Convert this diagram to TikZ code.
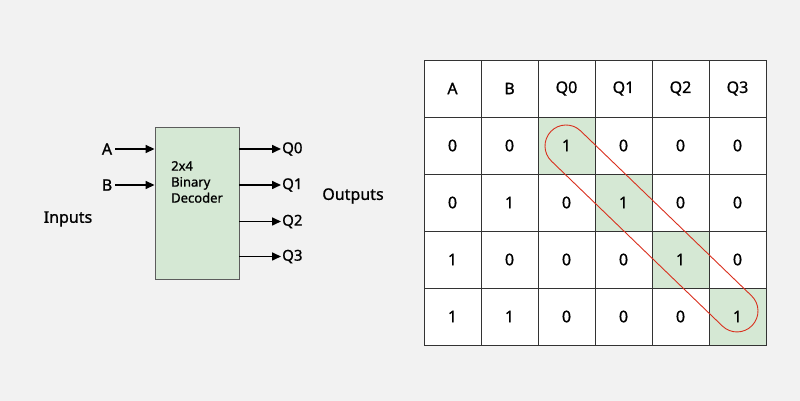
\documentclass[tikz,border=0pt]{standalone}
\usepackage{fontspec}
\setmainfont{Noto Sans}[FakeBold=0.9]
\usetikzlibrary{arrows.meta,calc}
\definecolor{bg}{HTML}{F2F2F2}
\definecolor{cellgreen}{HTML}{D5E8D4}
\definecolor{gridline}{HTML}{333333}
\definecolor{capred}{HTML}{D9301E}
\tikzset{
  cell/.style={draw=gridline, line width=0.9pt, minimum width=57pt, minimum height=57pt, inner sep=0pt, font=\fontsize{16}{18}\selectfont, text=black},
  hl/.style={fill=cellgreen},
  wire/.style={line width=1.6pt, -{Triangle[length=9pt,width=8pt]}},
  lab/.style={inner sep=1pt, font=\fontsize{15}{17}\selectfont},
  bigl/.style={inner sep=0pt, font=\fontsize{16}{18}\selectfont},
}
\begin{document}
\begin{tikzpicture}[x=1pt,y=1pt]
\fill[bg] (0,0) rectangle (800,401);
\useasboundingbox (0,0) rectangle (800,401);
% decoder box  (px: 155..239, 127..279)
\node[draw=gridline!80, line width=0.9pt, fill=cellgreen, minimum width=84pt, minimum height=152pt, inner sep=0pt] (dec) at (197,198) {};
\node[anchor=north west, align=left, inner sep=0pt, font=\fontsize{13}{16}\selectfont] (declab) at (171,240) {2x4\\Binary\\Decoder};
% inputs
\node[bigl] (A) at (107,252) {A};
\node[bigl] (B) at (107,216) {B};
\draw[wire] (A.east) ++(3,0) coordinate (As) -- (As -| dec.west);
\draw[wire] (B.east) ++(3,0) coordinate (Bs) -- (Bs -| dec.west);
% outputs
\node[lab, anchor=west] (Q0) at (281,252) {Q0};
\node[lab, anchor=west] (Q1) at (281,216) {Q1};
\node[lab, anchor=west] (Q2) at (281,179.5) {Q2};
\node[lab, anchor=west] (Q3) at (281,144.5) {Q3};
\foreach \q in {Q0,Q1,Q2,Q3}{
  \draw[wire] (dec.east |- \q.west) -- (\q.west);
}
\node[bigl] (inputs) at (68,182) {Inputs};
\node[bigl] (outputs) at (353,205) {Outputs};
% table
\foreach \r/\row in {0/{A,B,Q0,Q1,Q2,Q3},1/{0,0,1,0,0,0},2/{0,1,0,1,0,0},3/{1,0,0,0,1,0},4/{1,1,0,0,0,1}}{
  \foreach \v [count=\c from 0] in \row {
    \pgfmathsetmacro{\cx}{424+57*\c+28.5}
    \pgfmathsetmacro{\cy}{401-(60+57*\r+28.5)}
    \pgfmathtruncatemacro{\ishl}{(\r>0)&&(\c==\r+1)}
    \ifnum\ishl=1
      \node[cell,hl] (c-\r-\c) at (\cx,\cy) {\v};
    \else
      \node[cell,fill=white] (c-\r-\c) at (\cx,\cy) {\v};
    \fi
  }
}
% capsule
\coordinate (p1) at (566,255);
\coordinate (p2) at (737,90);
\begin{scope}[shift={(p1)}, rotate=-43.97]
  \draw[capred, line width=0.9pt] (0,21) -- (237.6,21) arc[start angle=90, end angle=-90, radius=21] -- (0,-21) arc[start angle=270, end angle=90, radius=21] -- cycle;
\end{scope}
\end{tikzpicture}
\end{document}
